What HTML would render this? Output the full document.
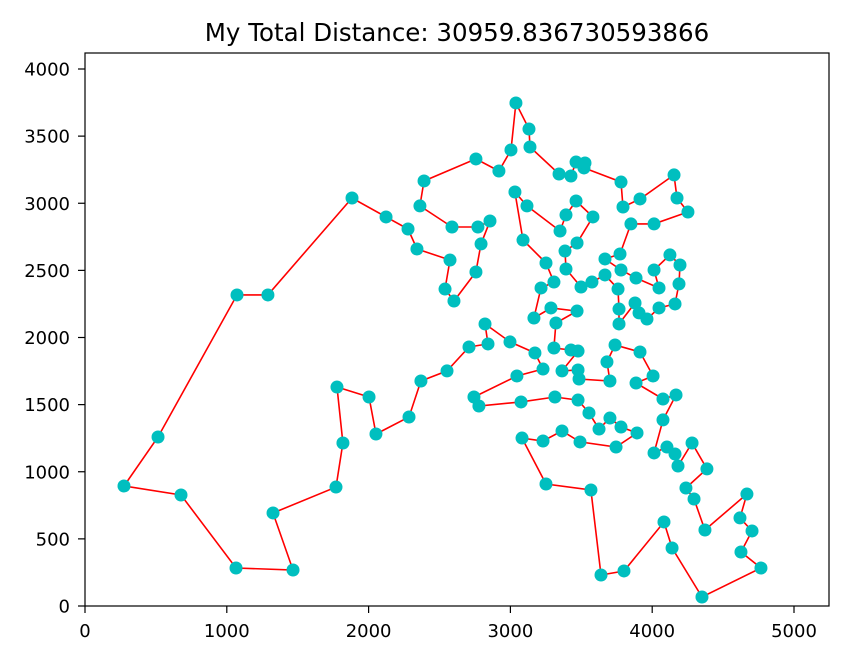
<!DOCTYPE html>
<html><head><meta charset="utf-8">
<style>
html,body{margin:0;padding:0;background:#fff;}
svg text{font-family:"DejaVu Sans","Liberation Sans",sans-serif;fill:#000;}
</style></head>
<body>
<svg id="chart" width="866" height="659" viewBox="0 0 866 659" xmlns="http://www.w3.org/2000/svg">
<rect width="866" height="659" fill="#fff"/>
<text x="457" y="41" font-size="24.5" text-anchor="middle">My Total Distance: 30959.836730593866</text>
<g id="plot"></g>
<rect x="85" y="53" width="744" height="553" fill="none" stroke="#000" stroke-width="1.2"/>
<g id="axes"></g>
</svg>
<script>
const xs=[1883,1290,1072,515,275,677,1065,1467,1326,1770,1819,1777,2003,2052,2285,2369,2553,2708,2842,2821,2997,3173,3230,3046,2743,2778,3075,3314,3477,3554,3625,3702,3780,3893,3745,3491,3364,3230,3082,3251,3568,3639,3801,4083,4140,4351,4767,4626,4704,4619,4668,4372,4295,4238,4386,4281,4182,4161,4104,4013,4076,4168,4076,3886,4006,3914,3738,3681,3702,3484,3477,3364,3477,3427,3307,3321,3470,3286,3166,3216,3307,3251,3089,3032,3117,3350,3392,3463,3582,3470,3385,3392,3498,3575,3667,3759,3766,3766,3879,3907,3963,4048,4161,4189,4196,4125,4013,4048,3886,3780,3667,3773,3850,4013,4252,4175,4154,3914,3794,3780,3519,3526,3463,3427,3343,3138,3131,3039,3004,2919,2757,2391,2362,2588,2771,2856,2793,2757,2602,2539,2574,2341,2278,2123];
const ys=[3039,2317,2317,1259,894,827,283,268,693,886,1214,1631,1557,1281,1408,1676,1751,1929,1952,2101,1967,1885,1765,1713,1557,1490,1520,1557,1534,1438,1318,1400,1333,1289,1184,1222,1304,1229,1251,909,864,231,261,626,432,67,283,402,559,656,834,566,797,879,1021,1214,1043,1132,1184,1140,1386,1572,1542,1661,1713,1892,1944,1818,1676,1691,1758,1751,1899,1907,1922,2108,2197,2220,2145,2369,2413,2555,2726,3084,2980,2793,2913,3017,2898,2704,2644,2510,2376,2413,2466,2361,2212,2101,2257,2183,2138,2220,2250,2399,2540,2615,2503,2369,2443,2503,2585,2622,2846,2846,2935,3039,3211,3032,2972,3158,3263,3300,3307,3203,3218,3419,3553,3747,3397,3240,3330,3166,2980,2823,2823,2868,2697,2488,2272,2361,2577,2659,2808,2898];
const xTicks=[0,1000,2000,3000,4000,5000];
const yTicks=[0,500,1000,1500,2000,2500,3000,3500,4000];

const NS="http://www.w3.org/2000/svg";
function X(v){return 85+v*0.1418;}
function Y(v){return 606-v*0.13425;}
const plot=document.getElementById('plot');
const axes=document.getElementById('axes');

let d='';
for(let i=0;i<xs.length;i++){d+=(i?'L':'M')+X(xs[i]).toFixed(1)+' '+Y(ys[i]).toFixed(1);}
d+='Z';
const path=document.createElementNS(NS,'path');
path.setAttribute('d',d);
path.setAttribute('fill','none');
path.setAttribute('stroke','#ff0000');
path.setAttribute('stroke-width','1.6');


plot.appendChild(path);

for(let i=0;i<xs.length;i++){
  const c=document.createElementNS(NS,'circle');
  c.setAttribute('cx',X(xs[i]));
  c.setAttribute('cy',Y(ys[i]));
  c.setAttribute('r','6.5');
  c.setAttribute('fill','#00bfbf');
  
  
  plot.appendChild(c);
}

xTicks.forEach(t=>{
  const l=document.createElementNS(NS,'line');
  l.setAttribute('x1',X(t));l.setAttribute('x2',X(t));
  l.setAttribute('y1',606);l.setAttribute('y2',613);
  l.setAttribute('stroke','#000');
  l.setAttribute('stroke-width','1.2');
  
  
  axes.appendChild(l);
  const tx=document.createElementNS(NS,'text');
  tx.setAttribute('x',X(t));tx.setAttribute('y',637);
  tx.setAttribute('font-size','18');tx.setAttribute('text-anchor','middle');
  tx.textContent=t;
  
  
  axes.appendChild(tx);
});
yTicks.forEach(t=>{
  const l=document.createElementNS(NS,'line');
  l.setAttribute('x1',78);l.setAttribute('x2',85);
  l.setAttribute('y1',Y(t));l.setAttribute('y2',Y(t));
  l.setAttribute('stroke','#000');
  l.setAttribute('stroke-width','1.2');
  
  
  axes.appendChild(l);
  const tx=document.createElementNS(NS,'text');
  tx.setAttribute('x',70);tx.setAttribute('y',Y(t)+6.5);
  tx.setAttribute('font-size','18');tx.setAttribute('text-anchor','end');
  tx.textContent=t;
  
  
  axes.appendChild(tx);
});
</script>
</body></html>
